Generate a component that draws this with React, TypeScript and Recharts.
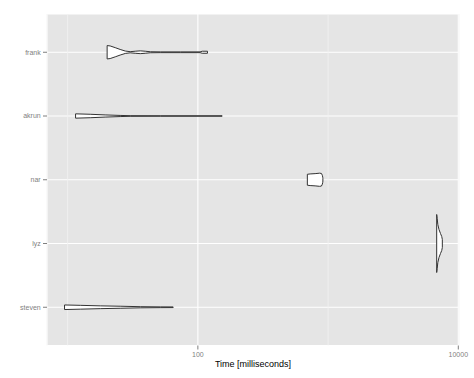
import { CartesianGrid, Scatter, ScatterChart, XAxis, YAxis } from "recharts"

// expressions, top to bottom
const methods = ["frank", "akrun", "nar", "lyz", "steven"]

// violin outlines: time (ms) and half-width of the density (in row units)
const frankTimes = [20.1, 21.2, 23.2, 25.3, 27.7, 30.2, 33, 36.1, 39.4, 43.1, 51.4, 73.2, 104, 108, 118.5]
const frankWidths = [0.105, 0.099, 0.072, 0.044, 0.019, 0.009, 0.016, 0.022, 0.016, 0.008, 0.006, 0.006, 0.006, 0.016, 0.016]

const akrunTimes = [11.5, 14.9, 19.4, 25.3, 30.2, 51.4, 153.5]
const akrunWidths = [0.034, 0.027, 0.017, 0.009, 0.005, 0.004, 0.004]

const narTimes = [693, 728, 795, 861, 889, 903, 910, 912]
const narWidths = [0.086, 0.091, 0.096, 0.103, 0.099, 0.07, 0.04, 0.02]

const lyzTimes = [6823, 6886, 6962, 7110, 7298, 7460, 7540]
const lyzWidths = [0.455, 0.392, 0.298, 0.219, 0.157, 0.11, 0.063]

const stevenTimes = [9.46, 12.5, 17.8, 25.3, 36.1, 51.4, 64.6]
const stevenWidths = [0.036, 0.03, 0.022, 0.016, 0.009, 0.006, 0.005]

const xTicks = [100, 10000]
const xMinor = [10, 1000]

function outline(times: number[], widths: number[], row: number) {
  const upper = times.map((t, i) => ({ t, y: row - widths[i] }))
  const lower = times.map((t, i) => ({ t, y: row + widths[i] })).reverse()
  return [...upper, ...lower, upper[0]]
}

const violins = [
  outline(frankTimes, frankWidths, 1),
  outline(akrunTimes, akrunWidths, 2),
  outline(narTimes, narWidths, 3),
  outline(lyzTimes, lyzWidths, 4),
  outline(stevenTimes, stevenWidths, 5),
]

const font = "'Liberation Sans', Arial, sans-serif"
const tickStyle = { fontSize: 7, fill: "#7f7f7f", fontFamily: font }

export default function App() {
  return (
    <div style={{ position: "absolute", left: 0, top: 0, background: "#fff" }}>
      <ScatterChart width={474} height={378} margin={{ top: 14, right: 15, left: 0, bottom: 0 }}>
        <CartesianGrid fill="#e5e5e5" stroke="#ffffff" strokeWidth={1.1} />
        <CartesianGrid xAxisId="minor" horizontal={false} stroke="#f2f2f2" strokeWidth={0.8} />
        <XAxis
          dataKey="t"
          type="number"
          scale="log"
          domain={[6.94, 10125]}
          allowDataOverflow
          ticks={xTicks}
          tickFormatter={(v) => String(v)}
          axisLine={false}
          tickSize={4}
          tickMargin={2.6}
          tickLine={{ stroke: "#7f7f7f" }}
          tick={tickStyle}
          height={32.5}
          label={{
            value: "Time [milliseconds]",
            position: "insideBottom",
            offset: 10.7,
            style: { fontSize: 9, fill: "#000", fontFamily: font },
          }}
        />
        <XAxis
          xAxisId="minor"
          dataKey="t"
          type="number"
          scale="log"
          domain={[6.94, 10125]}
          allowDataOverflow
          ticks={xMinor}
          hide
        />
        <YAxis
          dataKey="y"
          type="number"
          domain={[0.4, 5.6]}
          reversed
          allowDataOverflow
          ticks={[1, 2, 3, 4, 5]}
          tickFormatter={(v) => methods[v - 1] ?? ""}
          axisLine={false}
          tickSize={4}
          tickMargin={2.3}
          tickLine={{ stroke: "#7f7f7f" }}
          tick={tickStyle}
          width={47}
        />
        {violins.map((pts, i) => (
          <Scatter
            key={methods[i]}
            data={pts}
            line={{ stroke: "#333333", strokeWidth: 1, fill: "#ffffff" }}
            shape={() => <g />}
            isAnimationActive={false}
          />
        ))}
      </ScatterChart>
    </div>
  )
}
